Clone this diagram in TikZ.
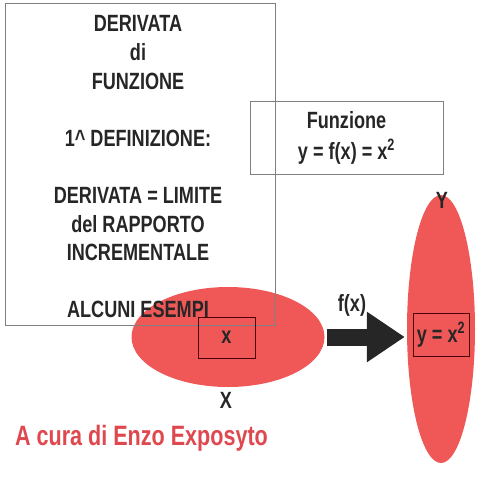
\documentclass[tikz,border=0pt]{standalone}
\usepackage		 {fontspec}
\setmainfont[FakeStretch=0.77]{Liberation Sans}
\usepackage		 {xcolor   }
\usetikzlibrary{shapes,calc,positioning,arrows.meta}
\definecolor{setred}{RGB}{240,88,88}
\definecolor{authred}{RGB}{222,72,78}

\begin{document}
\begin{tikzpicture}[x=1pt,y=-1pt]
  \tikzset{
  t/.style={font=\fontsize{23.5}{28.6}\selectfont\bfseries,text=black!85,inner sep=0pt,align=center},
  set/.style={ellipse,fill=setred,inner sep=0pt},
  box/.style={draw=gray,line width=0.8pt,inner sep=0pt},
  el/.style={draw=black!70!red,line width=0.6pt,inner sep=0pt},
  }
  \useasboundingbox (0,0) rectangle (480,480);
  % the sets
  \node[set,minimum width=193pt,minimum height=100pt] (X) at (228,337) {};
  \node[set,minimum width=68pt,minimum height=268pt] (Y) at (441,329) {};
  \node[t] (lX) at (226,400) {X};
  \node[t] (lY) at (442,200) {Y};

  % the boxes
  \node[box,minimum width=270pt,minimum height=322pt] (titolo) at (140,164) {};
  \node[t,anchor=north] (testo) at (138,15.5) {DERIVATA\\di\\FUNZIONE\\[28.6pt]
    1\textasciicircum{} DEFINIZIONE:\\[28.6pt]
    DERIVATA = LIMITE\\del RAPPORTO\\INCREMENTALE\\[28.6pt]ALCUNI ESEMPI};
  \node[box,t,minimum width=193pt,minimum height=73pt] (funz) at (346.5,137.5)
    {Funzione\\[2.4pt]y = f(x) = x\textsuperscript{2}};

  % the elements
  \node[el,t,minimum width=57pt,minimum height=41pt] (x) at (226.5,337.5) {x};
  \node[el,t,minimum width=56pt,minimum height=43pt] (y) at (441,334.5) {y = x\textsuperscript{2}};

  % the mapping
  \draw[line width=17pt,black!85,-{Triangle[length=38pt,width=48pt]},shorten <=2pt,shorten >=2pt]
    (X.east) -- (X.east -| Y.west);
  \node[t] (fx) at (352,305) {f(x)};

  \node[font=\fontsize{28}{30}\selectfont\bfseries,text=authred,inner sep=0pt] (autore) at (141.5,438)
    {A cura di Enzo Exposyto};
\end{tikzpicture}
\end{document}
